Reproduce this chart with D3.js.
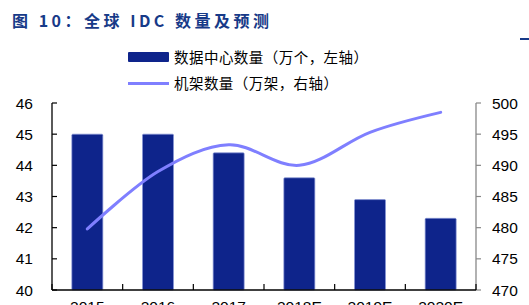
<!DOCTYPE html>
<html>
<head>
<meta charset="utf-8">
<script src="https://cdn.jsdelivr.net/npm/d3@7"></script>
<style>
  html, body { margin: 0; padding: 0; background: #fff; overflow: hidden; }
  svg { display: block; }
  .num { font-family: "Liberation Sans", Arial, sans-serif; font-size: 15.5px; fill: #000; }
  .cjk { font-family: "Noto Sans CJK SC", sans-serif; }
</style>
</head>
<body>
<div id="chart"></div>
<script>
// data
var years = ['2015', '2016', '2017', '2018E', '2019E', '2020E'];
var idcCount = [45.0, 45.0, 44.4, 43.6, 42.9, 42.3];     // 万个, left axis
var rackCount = [479.8, 489.0, 493.3, 490.0, 495.3, 498.5]; // 万架, right axis
var leftTicks = [40, 41, 42, 43, 44, 45, 46];
var rightTicks = [470, 475, 480, 485, 490, 495, 500];

var W = 529, H = 305;
var m = {left: 52, right: 476, top: 103, bottom: 290};

var svg = d3.select('#chart').append('svg')
  .attr('width', W).attr('height', H);

// title
svg.append('text')
  .attr('class', 'cjk')
  .attr('x', 12).attr('y', 27)
  .style('font-size', '16px').style('font-weight', 'bold')
  .style('letter-spacing', '3.5px')
  .style('fill', '#173a88')
  .text('图 10：全球 IDC 数量及预测');

svg.append('rect')
  .attr('x', 520).attr('y', 38).attr('width', 9).attr('height', 2)
  .attr('fill', '#173a88');

var x = d3.scaleBand().domain(years).range([m.left, m.right]).paddingInner(0).paddingOuter(0);
var yL = d3.scaleLinear().domain([40, 46]).range([m.bottom, m.top]);
var yR = d3.scaleLinear().domain([470, 500]).range([m.bottom, m.top]);

// bars
var barW = 31;
svg.append('g').selectAll('rect')
  .data(idcCount)
  .enter().append('rect')
    .attr('x', function(d, i) { return x(years[i]) + x.bandwidth() / 2 - barW / 2; })
    .attr('y', function(d) { return yL(d); })
    .attr('width', barW)
    .attr('height', function(d) { return yL(40) - yL(d); })
    .attr('rx', 1)
    .attr('fill', '#0e248b')
    .attr('stroke', '#8795d6')
    .attr('stroke-width', 0.7);

// line
var line = d3.line()
  .x(function(d, i) { return x(years[i]) + x.bandwidth() / 2; })
  .y(function(d) { return yR(d); })
  .curve(d3.curveCardinal.tension(0));

svg.append('path')
  .datum(rackCount)
  .attr('d', line)
  .attr('fill', 'none')
  .attr('stroke', '#7f7fff')
  .attr('stroke-width', 3)
  .attr('stroke-linecap', 'round');

// left axis
var gL = svg.append('g');
gL.append('line')
  .attr('x1', m.left).attr('x2', m.left)
  .attr('y1', m.top).attr('y2', m.bottom)
  .attr('stroke', '#000').attr('stroke-width', 1.3);
gL.selectAll('line.t').data(leftTicks).enter().append('line')
  .attr('class', 't')
  .attr('x1', m.left).attr('x2', m.left + 5)
  .attr('y1', function(d) { return yL(d); }).attr('y2', function(d) { return yL(d); })
  .attr('stroke', '#000').attr('stroke-width', 1.2);
gL.selectAll('text').data(leftTicks).enter().append('text')
  .attr('class', 'num')
  .attr('x', 33).attr('y', function(d) { return yL(d); })
  .attr('dy', '0.36em')
  .attr('text-anchor', 'end')
  .text(function(d) { return d; });

// right axis
var gR = svg.append('g');
gR.append('line')
  .attr('x1', m.right).attr('x2', m.right)
  .attr('y1', m.top).attr('y2', m.bottom)
  .attr('stroke', '#888').attr('stroke-width', 1.3);
gR.selectAll('line.t').data(rightTicks).enter().append('line')
  .attr('class', 't')
  .attr('x1', m.right).attr('x2', m.right + 5)
  .attr('y1', function(d) { return yR(d); }).attr('y2', function(d) { return yR(d); })
  .attr('stroke', '#888').attr('stroke-width', 1.2);
gR.selectAll('text').data(rightTicks).enter().append('text')
  .attr('class', 'num')
  .attr('x', 492).attr('y', function(d) { return yR(d); })
  .attr('dy', '0.36em')
  .text(function(d) { return d; });

// bottom axis
var gB = svg.append('g');
gB.append('line')
  .attr('x1', m.left).attr('x2', m.right)
  .attr('y1', m.bottom).attr('y2', m.bottom)
  .attr('stroke', '#000').attr('stroke-width', 1.3);
var bounds = years.map(function(d) { return x(d); }).concat([m.right]);
gB.selectAll('line.t').data(bounds).enter().append('line')
  .attr('class', 't')
  .attr('x1', function(d) { return d; }).attr('x2', function(d) { return d; })
  .attr('y1', m.bottom).attr('y2', m.bottom - 6)
  .attr('stroke', '#000').attr('stroke-width', 1.2);
// the year labels sit below the frame edge, as in the source image
gB.selectAll('text').data(years).enter().append('text')
  .attr('class', 'num')
  .attr('x', function(d) { return x(d) + x.bandwidth() / 2; })
  .attr('y', 312)
  .attr('text-anchor', 'middle')
  .text(function(d) { return d; });

// legend
var lg = svg.append('g');
lg.append('rect')
  .attr('x', 128).attr('y', 52).attr('width', 41).attr('height', 10).attr('rx', 1)
  .attr('fill', '#0e248b');
lg.append('text')
  .attr('class', 'cjk')
  .attr('x', 174).attr('y', 63)
  .attr('textLength', 194).attr('lengthAdjust', 'spacing')
  .style('font-size', '14.5px')
  .text('数据中心数量（万个，左轴）');
lg.append('line')
  .attr('x1', 128).attr('x2', 169).attr('y1', 83.5).attr('y2', 83.5)
  .attr('stroke', '#7f7fff').attr('stroke-width', 3);
lg.append('text')
  .attr('class', 'cjk')
  .attr('x', 174).attr('y', 89)
  .attr('textLength', 164).attr('lengthAdjust', 'spacing')
  .style('font-size', '14.5px')
  .text('机架数量（万架，右轴）');
</script>
</body>
</html>
